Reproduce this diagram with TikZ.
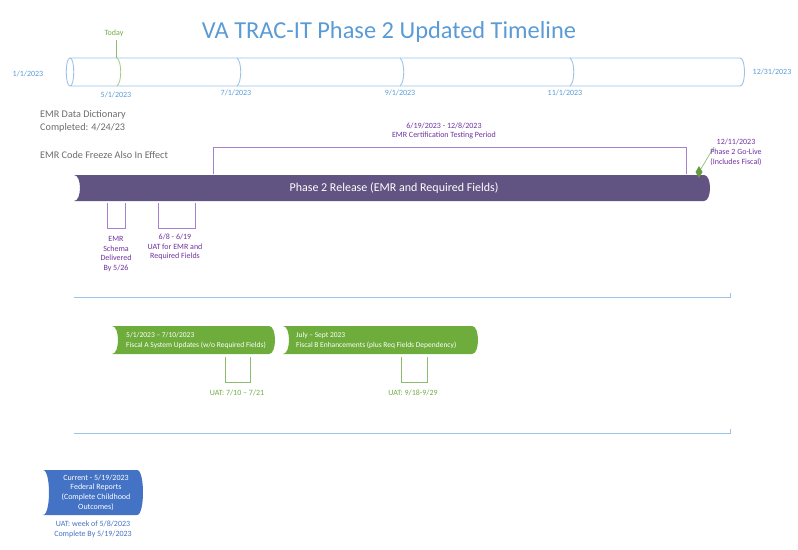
\documentclass[tikz,border=0pt]{standalone}
\usepackage{fontspec}
\setmainfont{Carlito}
\begin{document}
\begin{tikzpicture}[x=1pt,y=-1pt,
  t/.style={inner sep=0pt,font=\fontsize{8}{9.8}\selectfont,align=center},
  blu/.style={t,text=axis},
  pur/.style={t,text=purp},
  grn/.style={t,text=grnT},
  gry/.style={inner sep=0pt,anchor=west,text=gray!85!black,font=\fontsize{10.2}{12}\selectfont},
  wt/.style={t,text=white,anchor=west,align=left,font=\fontsize{7.5}{10}\selectfont}]
\definecolor{axis}{HTML}{5B9BD5}
\definecolor{axisl}{HTML}{9DC3E6}
\definecolor{purp}{HTML}{7030A0}
\definecolor{purpl}{HTML}{A77FCF}
\definecolor{barp}{HTML}{615382}
\definecolor{grnF}{HTML}{6EAC3C}
\definecolor{grnT}{HTML}{70AD47}
\definecolor{bluF}{HTML}{4472C4}
\useasboundingbox (0,0) rectangle (798,549);
\newcommand\mybar[5]{\fill[#1] (#2,#3) -- ({#4-8},#3) .. controls (#4,#3) and (#4,#5) .. ({#4-8},#5) -- (#2,#5) .. controls ({#2+8},#5) and ({#2+8},#3) .. (#2,#3) -- cycle;}
% title
\node[inner sep=0pt,text=axis,font=\fontsize{24.4}{26}\selectfont] (title) at (389,32) {VA TRAC-IT Phase 2 Updated Timeline};
% cylinder
\draw[axisl,line width=0.9pt] (70,58) -- (740,58) .. controls (746,58) and (746,86) .. (740,86) -- (70,86) .. controls (65,86) and (65,58) .. (70,58) .. controls (75,58) and (75,86) .. (70,86);
\foreach \xx in {237,400,570}{\draw[axisl,line width=0.9pt] (\xx,58) .. controls ({\xx+5},62) and ({\xx+5},82) .. (\xx,86);}
\draw[grnT!60,line width=0.9pt] (117,58) .. controls (122,62) and (122,82) .. (117,86);
\coordinate (td1) at (116,40); \coordinate (td2) at (116,58);
\draw[grnT!80,line width=0.7pt] (td1) -- (td2);
\node[grn] (today) at (114,33) {Today};
\node[blu] (d0) at (28,74) {1/1/2023};
\node[blu] (d1) at (772,72) {12/31/2023};
\node[blu] (d2) at (116,95) {5/1/2023};
\node[blu] (d3) at (236,93) {7/1/2023};
\node[blu] (d4) at (400,93) {9/1/2023};
\node[blu] (d5) at (565,93) {11/1/2023};
% gray notes
\node[gry] (g1) at (40,115) {EMR Data Dictionary};
\node[gry] (g2) at (40,128) {Completed: 4/24/23};
\node[gry] (g3) at (40,155) {EMR Code Freeze Also In Effect};
% purple bar
\mybar{barp}{74}{175}{712}{201}
\node[t,text=white,font=\fontsize{12}{14}\selectfont] (p2) at (394,188) {Phase 2 Release (EMR and Required Fields)};
% certification bracket
\draw[purpl,line width=0.8pt] (213,174) -- (213,147) -- (686,147) -- (686,174);
\node[pur] (cert) at (444,131) {6/19/2023 - 12/8/2023\\EMR Certification Testing Period};
\coordinate (gl) at (699,172); \coordinate (gl2) at (714,147);
\draw[grnT!80,line width=0.7pt] (gl) -- (gl2);
\fill[grnT!90!black] (699,166) -- (702.5,172) -- (699,178) -- (695.5,172) -- cycle;
\node[pur] (golive) at (736,152) {12/11/2023\\Phase 2 Go-Live\\(Includes Fiscal)};
% small brackets
\draw[purpl,line width=0.8pt] (107,203) -- (107,228) -- (125,228) -- (125,203);
\draw[purpl,line width=0.8pt] (158,203) -- (158,228) -- (195,228) -- (195,203);
\node[pur] (schema) at (116,254) {EMR\\Schema\\Delivered\\By 5/26};
\node[pur] (uat1) at (175,247) {6/8 - 6/19\\UAT for EMR and\\Required Fields};
% separators
\coordinate (s1a) at (74,297); \coordinate (s1b) at (730,297); \coordinate (s1c) at (730,293);
\draw[axisl,line width=0.9pt] (s1a) -- (s1b) -- (s1c);
\coordinate (s2a) at (74,433); \coordinate (s2b) at (730,433); \coordinate (s2c) at (730,429);
\draw[axisl,line width=0.9pt] (s2a) -- (s2b) -- (s2c);
% green bars
\mybar{grnF}{112}{326}{277}{354}
\mybar{grnF}{283}{326}{480}{354}
\node[wt] (fa) at (126,340) {5/1/2023 -- 7/10/2023\\Fiscal A System Updates (w/o Required Fields)};
\node[wt] (fb) at (296,340) {July -- Sept 2023\\Fiscal B Enhancements (plus Req Fields Dependency)};
\draw[grnT!80,line width=0.8pt] (225,357) -- (225,382) -- (250,382) -- (250,357);
\draw[grnT!80,line width=0.8pt] (401,357) -- (401,382) -- (427,382) -- (427,357);
\node[grn] (ua) at (237,393) {UAT: 7/10 -- 7/21};
\node[grn] (ub) at (413,393) {UAT: 9/18-9/29};
% blue box
\mybar{bluF}{43}{470}{145}{515}
\node[t,text=white] (fed) at (96,492.5) {Current - 5/19/2023\\Federal Reports\\(Complete Childhood\\Outcomes)};
\node[t,text=bluF] (fedu) at (93,529) {UAT: week of 5/8/2023\\Complete By 5/19/2023};
\end{tikzpicture}
\end{document}
